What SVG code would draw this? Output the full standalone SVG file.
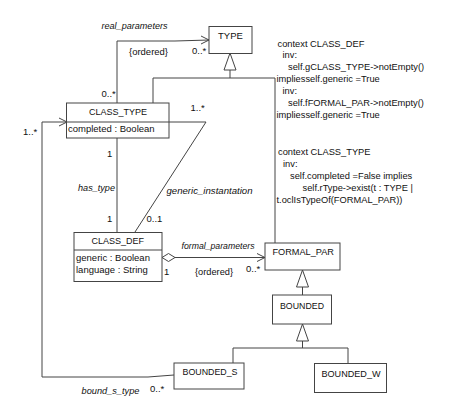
<svg xmlns="http://www.w3.org/2000/svg" width="474" height="418" viewBox="0 0 474 418">
<style>
.box{fill:#fff;stroke:#444;stroke-width:1}
.ln{fill:none;stroke:#444;stroke-width:1}
.tri{fill:#fff;stroke:#444;stroke-width:1}
text{font-family:"Liberation Sans",Arial,sans-serif;font-size:9.5px;fill:#111}
.it{font-style:italic}
.ocl{font-size:9.3px}
</style>
<rect width="474" height="418" fill="#fff"/>
<g id="connectors">
  <!-- generalization to TYPE -->
  <polyline class="ln" points="153,103 153,78 275,78 275,243"/>
  <line class="ln" x1="230" y1="70" x2="230" y2="78"/>
  <polygon class="tri" points="230,53 224,70 236,70"/>
  <!-- real_parameters -->
  <polyline class="ln" points="117,103 117,41 175,41 209,40"/>
  <polyline class="ln" points="201,36 209,40 201,44"/>
  <!-- bound_s_type -->
  <polyline class="ln" points="174,375 148,377 42,377 42,122 67,122"/>
  <polyline class="ln" points="59,118 67,122 59,126"/>
  <!-- generic_instantation -->
  <polyline class="ln" points="169,122 206,122 135,232"/>
  <!-- has_type -->
  <line class="ln" x1="117" y1="138" x2="117" y2="232"/>
  <!-- formal_parameters -->
  <line class="ln" x1="175" y1="257.5" x2="265" y2="257.5"/>
  <polygon class="tri" points="162,257.5 168.5,253.5 175,257.5 168.5,261.5"/>
  <polyline class="ln" points="257,253.5 265,257.5 257,261.5"/>
  <!-- FORMAL_PAR <- BOUNDED -->
  <line class="ln" x1="302.5" y1="287" x2="302.5" y2="295"/>
  <polygon class="tri" points="302.5,270 296.5,287 308.5,287"/>
  <!-- BOUNDED <- BOUNDED_S, BOUNDED_W -->
  <polyline class="ln" points="233,363 233,348 348,348 348,363"/>
  <line class="ln" x1="302.5" y1="341" x2="302.5" y2="348"/>
  <polygon class="tri" points="302.5,324 296.5,341 308.5,341"/>
</g>
<g id="labels">
  <text class="it" x="101.5" y="28.5" textLength="66" lengthAdjust="spacingAndGlyphs">real_parameters</text>
  <text x="129" y="55" textLength="39" lengthAdjust="spacingAndGlyphs">{ordered}</text>
  <text x="192" y="53.5">0..*</text>
  <text x="101.5" y="96.5">0..*</text>
  <text x="190.5" y="110.5">1..*</text>
  <text x="23" y="135">1..*</text>
  <text x="107" y="157">1</text>
  <text class="it" x="78" y="190.5" textLength="37" lengthAdjust="spacingAndGlyphs">has_type</text>
  <text x="107" y="221.5">1</text>
  <text x="146.5" y="221.5">0..1</text>
  <text class="it" x="166.5" y="194" textLength="86" lengthAdjust="spacingAndGlyphs">generic_instantation</text>
  <text class="it" x="181.5" y="248.5" textLength="73" lengthAdjust="spacingAndGlyphs">formal_parameters</text>
  <text x="164" y="275">1</text>
  <text x="195" y="275" textLength="38" lengthAdjust="spacingAndGlyphs">{ordered}</text>
  <text x="246" y="272">0..*</text>
  <text class="it" x="81.5" y="394" textLength="58" lengthAdjust="spacingAndGlyphs">bound_s_type</text>
  <text x="150" y="391.5">0..*</text>
</g>
<g id="TYPE">
  <rect class="box" x="209" y="26.5" width="43" height="27"/>
  <text x="218" y="38.5">TYPE</text>
</g>
<g id="CLASS_TYPE">
  <rect class="box" x="66.5" y="103" width="102.5" height="35"/>
  <line class="ln" x1="66.5" y1="122" x2="169" y2="122"/>
  <text x="89" y="115" textLength="58" lengthAdjust="spacingAndGlyphs">CLASS_TYPE</text>
  <text x="68" y="131.5">completed : Boolean</text>
</g>
<g id="CLASS_DEF">
  <rect class="box" x="74" y="232.5" width="88" height="49"/>
  <line class="ln" x1="74" y1="250" x2="162" y2="250"/>
  <text x="91.5" y="244" textLength="52.5" lengthAdjust="spacingAndGlyphs">CLASS_DEF</text>
  <text x="76" y="260.5">generic : Boolean</text>
  <text x="76" y="273">language : String</text>
</g>
<g id="FORMAL_PAR">
  <rect class="box" x="265" y="243" width="75" height="27"/>
  <text x="272.5" y="255" textLength="61.5" lengthAdjust="spacingAndGlyphs">FORMAL_PAR</text>
</g>
<g id="BOUNDED">
  <rect class="box" x="272.5" y="295" width="59" height="29"/>
  <text x="280" y="309" textLength="44" lengthAdjust="spacingAndGlyphs">BOUNDED</text>
</g>
<g id="BOUNDED_S">
  <rect class="box" x="174" y="363" width="70" height="26"/>
  <text x="182.5" y="375" textLength="55" lengthAdjust="spacingAndGlyphs">BOUNDED_S</text>
</g>
<g id="BOUNDED_W">
  <rect class="box" x="314.5" y="363.5" width="72" height="29"/>
  <text x="321.5" y="376.5" textLength="59" lengthAdjust="spacingAndGlyphs">BOUNDED_W</text>
</g>
<g id="ocl_class_def">
  <text class="ocl" x="277.5" y="46.5">context CLASS_DEF</text>
  <text class="ocl" x="282.5" y="58">inv:</text>
  <text class="ocl" x="288" y="70">self.gCLASS_TYPE-&gt;notEmpty()</text>
  <text class="ocl" x="276.5" y="82">impliesself.generic =True</text>
  <text class="ocl" x="282.5" y="93.5">inv:</text>
  <text class="ocl" x="288" y="106">self.fFORMAL_PAR-&gt;notEmpty()</text>
  <text class="ocl" x="276.5" y="118">impliesself.generic =True</text>
</g>
<g id="ocl_class_type">
  <text class="ocl" x="278" y="154.5">context CLASS_TYPE</text>
  <text class="ocl" x="283" y="166.5">inv:</text>
  <text class="ocl" x="290" y="178.5">self.completed =False implies</text>
  <text class="ocl" x="302.5" y="190.5">self.rType-&gt;exist(t : TYPE |</text>
  <text class="ocl" x="276.5" y="202.5">t.oclIsTypeOf(FORMAL_PAR))</text>
</g>
</svg>
